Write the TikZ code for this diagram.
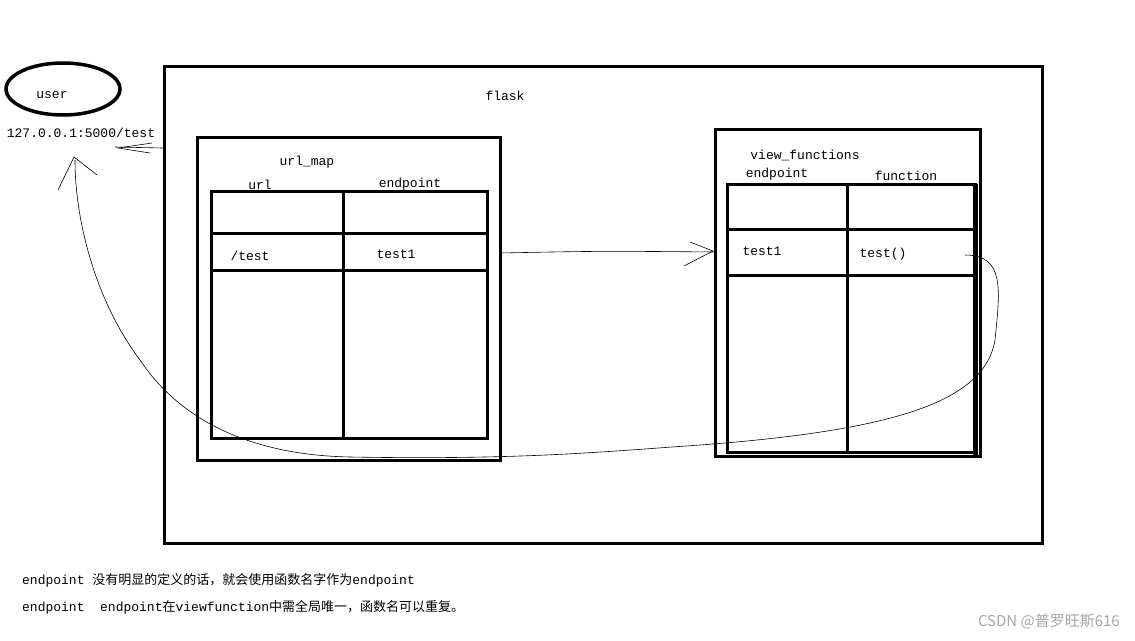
\documentclass[tikz,border=0pt]{standalone}
\usepackage{fontspec}
\setmonofont{Liberation Mono}
\newfontfamily\cjk{Noto Sans CJK SC}
\usetikzlibrary{shapes.geometric}
\begin{document}
\begin{tikzpicture}[x=1pt,y=-1pt,
  thickbox/.style={draw,line width=3pt},
  tab/.style={line width=3pt},
  lbl/.style={font=\ttfamily\fontsize{13}{15}\selectfont,inner sep=0pt},
  thin/.style={line width=0.6pt}]
\useasboundingbox[fill=white] (0,0) rectangle (1135,640);
\node[ellipse,draw,line width=3.5pt,minimum width=114pt,minimum height=52pt] (user) at (63,89) {};
\node[lbl] (ut) at (52,95) {user};
\node[lbl] (ip) at (81,133) {127.0.0.1:5000/test};
% flask
\draw[thickbox] (164,66) rectangle (1042,543);
\node[lbl] (fl) at (505,96) {flask};
% url_map
\draw[thickbox] (197,137) rectangle (500,460);
\draw[tab] (211,191) rectangle (487,438);
\draw[tab] (343,191) -- (343,438) (211,233) -- (487,233) (211,270) -- (487,270);
\node[lbl] (um) at (307,162) {url\_map};
\node[lbl] (uu) at (260,185) {url};
\node[lbl] (ue) at (410,184) {endpoint};
\node[lbl] (ut1) at (250,256) {/test};
\node[lbl] (ut2) at (396,254) {test1};
% view functions
\draw[thickbox] (715,129) rectangle (980,456);
\draw[tab] (727,184) rectangle (975,452);
\draw[line width=5pt] (975,184) -- (975,456);
\draw[tab] (847,184) -- (847,452) (727,229) -- (975,229) (727,275) -- (975,275);
\node[lbl] (vf) at (805,155) {view\_functions};
\node[lbl] (ve) at (777,174) {endpoint};
\node[lbl] (vfn) at (906,176) {function};
\node[lbl] (vt1) at (762,251) {test1};
\node[lbl] (vt2) at (883,254) {test()};
% arrows
\coordinate (a1) at (500,253); \coordinate (a2) at (715,252);
\draw[thin] (a1) .. controls (600,251) .. (a2);
\draw[thin] (690,242) -- (713,251) -- (684,266);
\coordinate (b1) at (163,148); \coordinate (b2) at (115,147);
\draw[thin] (b1) -- (b2);
\draw[thin] (152,143) -- (118,148) -- (150,153);
\coordinate (c0) at (965,255); \coordinate (c9) at (75,160);
\draw[thin] (c0) .. controls (1005,255) and (1000,290) .. (995,340)
  .. controls (985,400) and (900,430) .. (700,445)
  .. controls (600,452) and (520,460) .. (350,457)
  .. controls (250,455) and (180,420) .. (140,360)
  .. controls (95,300) and (75,220) .. (c9);
\draw[thin] (58,190) -- (74,157) -- (97,175);
% bottom text
\node[anchor=west,inner sep=0pt,font=\fontsize{13}{15}\selectfont] (t1) at (22,580) {\ttfamily endpoint \cjk 没有明显的定义的话，就会使用函数名字作为\ttfamily endpoint};
\node[anchor=west,inner sep=0pt,font=\fontsize{13}{15}\selectfont] (t2) at (22,607) {\ttfamily endpoint\ \ endpoint\cjk 在\ttfamily viewfunction\cjk 中需全局唯一，函数名可以重复。};
\node[anchor=east,inner sep=0pt,text=gray!70,font=\cjk\fontsize{15}{17}\selectfont] (wm) at (1120,621) {CSDN @普罗旺斯616};
\end{tikzpicture}
\end{document}
